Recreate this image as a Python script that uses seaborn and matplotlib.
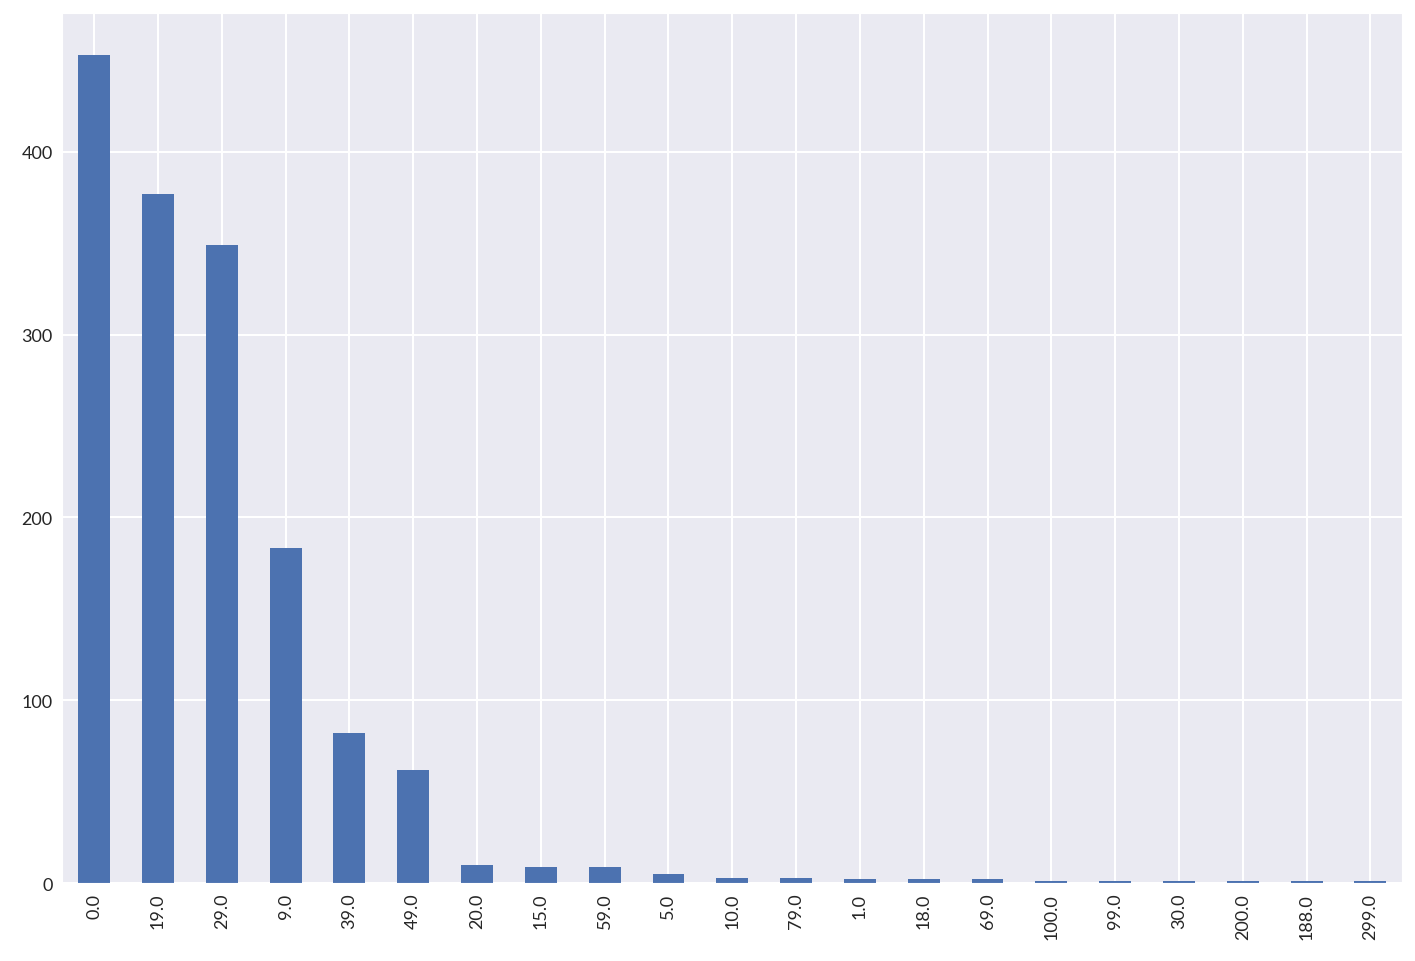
import seaborn as sns
import matplotlib.pyplot as plt
import pandas as pd

sns.set_style("darkgrid")
plt.rcParams['font.family'] = ['Lato', 'DejaVu Sans']
plt.rcParams['grid.linewidth'] = 1.45

categories = ["0.0", "19.0", "29.0", "9.0", "39.0", "49.0", "20.0", "15.0", "59.0",
              "5.0", "10.0", "79.0", "1.0", "18.0", "69.0", "100.0", "99.0", "30.0",
              "200.0", "188.0", "299.0"]
counts = [453, 377, 349, 183, 82, 62, 10, 9, 9, 5, 3, 3, 2, 2, 2, 1, 1, 1, 1, 1, 1]

df = pd.DataFrame({"value": categories, "count": counts})

fig, ax = plt.subplots(figsize=(14.15, 9.62), dpi=100)
sns.barplot(data=df, x="value", y="count", order=categories,
            color="#4C72B0", saturation=1, width=0.5, linewidth=0, ax=ax)

ax.set_xlabel("")
ax.set_ylabel("")
ax.set_yticks([0, 100, 200, 300, 400])
ax.xaxis.grid(True, linewidth=1.45)
ax.yaxis.grid(True, linewidth=1.45)
ax.set_axisbelow(True)
ax.tick_params(axis='x', labelrotation=90, labelsize=13)
ax.tick_params(axis='y', labelsize=13)
ax.set_xlim(-0.5, len(categories) - 0.5)
ax.set_ylim(0, max(counts) * 1.05)

plt.subplots_adjust(left=0.044, right=0.991, top=0.985, bottom=0.081)
plt.savefig("out.png", dpi=100)
